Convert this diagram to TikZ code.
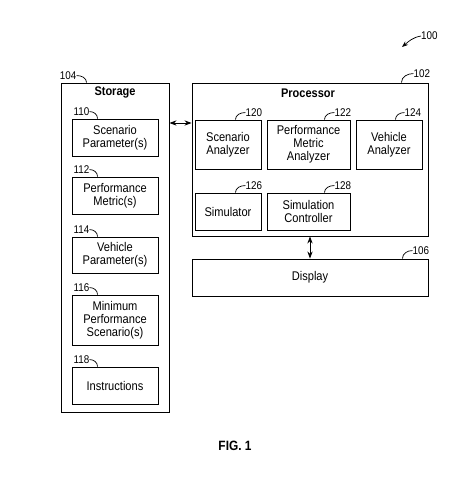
\documentclass[tikz,border=0pt]{standalone}
\usepackage{fontspec}
\setmainfont{Liberation Sans}[FakeStretch=0.88]
\usetikzlibrary{arrows.meta}

\begin{document}
\begin{tikzpicture}[>=Stealth, x=1pt, y=1pt,
    caja/.style={draw, line width=0.9pt, align=center, inner sep=0pt,
      font=\fontsize{12.6}{13}\selectfont},
    ref/.style={inner sep=0pt, font=\fontsize{11.2}{13}\selectfont},
    titulo/.style={inner sep=0pt, font=\bfseries\fontsize{12.5}{13}\selectfont},
    guia/.style={line width=0.7pt}]
                \useasboundingbox (0,0) rectangle (474,488);
                % Almacenamiento
                \node[caja, minimum width=108, minimum height=329] (storage) at (115,240.5) {};
                \node[titulo] (tstorage) at (115,396) {Storage};
                \node[caja, minimum width=86, minimum height=37] (b110) at (115,350.5) {Scenario\\Parameter(s)};
                \node[caja, minimum width=86, minimum height=37] (b112) at (115,292.5) {Performance\\Metric(s)};
                \node[caja, minimum width=86, minimum height=36] (b114) at (115,233) {Vehicle\\Parameter(s)};
                \node[caja, minimum width=86, minimum height=50] (b116) at (115,168) {Minimum\\Performance\\Scenario(s)};
                \node[caja, minimum width=86, minimum height=37] (b118) at (115,102.5) {Instructions};
                % Procesador
                \node[caja, minimum width=236, minimum height=153] (proc) at (310,328.5) {};
                \node[titulo] (tproc) at (308,395) {Processor};
                \node[caja, minimum width=66, minimum height=49] (b120) at (228,343.5) {Scenario\\Analyzer};
                \node[caja, minimum width=83, minimum height=49] (b122) at (308.5,343.5) {Performance\\Metric\\Analyzer};
                \node[caja, minimum width=66, minimum height=49] (b124) at (389,343.5) {Vehicle\\Analyzer};
                \node[caja, minimum width=66, minimum height=37] (b126) at (228,276.5) {Simulator};
                \node[caja, minimum width=83, minimum height=37] (b128) at (308.5,276.5) {Simulation\\Controller};
                % Pantalla
                \node[caja, minimum width=236, minimum height=37] (disp) at (310,210.5) {Display};
                % Flechas
                \draw[<->, line width=0.9pt] (storage.east |- 0,365) -- (proc.west |- 0,365);
                \draw[<->, line width=0.9pt] (proc.south) -- (disp.north);
                % Referencias a la izquierda
                \node[ref, anchor=east] (n104) at ([xshift=16pt,yshift=7pt]storage.north west) {104};
                \draw[guia] (n104.east) to[out=0,in=90] ([xshift=26pt]storage.north west);
                \node[ref, anchor=east] (n110) at ([xshift=18pt,yshift=7pt]b110.north west) {110};
                \draw[guia] (n110.east) to[out=0,in=90] ([xshift=26pt]b110.north west);
                \node[ref, anchor=east] (n112) at ([xshift=18pt,yshift=7pt]b112.north west) {112};
                \draw[guia] (n112.east) to[out=0,in=90] ([xshift=26pt]b112.north west);
                \node[ref, anchor=east] (n114) at ([xshift=18pt,yshift=7pt]b114.north west) {114};
                \draw[guia] (n114.east) to[out=0,in=90] ([xshift=26pt]b114.north west);
                \node[ref, anchor=east] (n116) at ([xshift=18pt,yshift=7pt]b116.north west) {116};
                \draw[guia] (n116.east) to[out=0,in=90] ([xshift=26pt]b116.north west);
                \node[ref, anchor=east] (n118) at ([xshift=18pt,yshift=7pt]b118.north west) {118};
                \draw[guia] (n118.east) to[out=0,in=90] ([xshift=26pt]b118.north west);
                % Referencias a la derecha
                \node[ref, anchor=west] (n102) at ([xshift=-15pt,yshift=9pt]proc.north east) {102};
                \draw[guia] ([xshift=-27pt]proc.north east) to[out=90,in=180] (n102.west);
                \node[ref, anchor=west] (n120) at ([xshift=-16pt,yshift=7pt]b120.north east) {120};
                \draw[guia] ([xshift=-26pt]b120.north east) to[out=90,in=180] (n120.west);
                \node[ref, anchor=west] (n122) at ([xshift=-16pt,yshift=7pt]b122.north east) {122};
                \draw[guia] ([xshift=-26pt]b122.north east) to[out=90,in=180] (n122.west);
                \node[ref, anchor=west] (n124) at ([xshift=-18pt,yshift=7pt]b124.north east) {124};
                \draw[guia] ([xshift=-27pt]b124.north east) to[out=90,in=180] (n124.west);
                \node[ref, anchor=west] (n126) at ([xshift=-16pt,yshift=7pt]b126.north east) {126};
                \draw[guia] ([xshift=-26pt]b126.north east) to[out=90,in=180] (n126.west);
                \node[ref, anchor=west] (n128) at ([xshift=-16pt,yshift=7pt]b128.north east) {128};
                \draw[guia] ([xshift=-26pt]b128.north east) to[out=90,in=180] (n128.west);
                \node[ref, anchor=west] (n106) at ([xshift=-16pt,yshift=8pt]disp.north east) {106};
                \draw[guia] ([xshift=-26pt]disp.north east) to[out=90,in=180] (n106.west);
                % Figura
                \node[ref, anchor=west] (n100) at (421,452) {100};
                \coordinate (punta) at (402,441);
                \draw[->, guia] (n100.west) to[out=190,in=40] (punta);
                \node[titulo, font=\bfseries\fontsize{13.5}{14}\selectfont] (fig) at (235,42) {FIG. 1};
            \end{tikzpicture}
\end{document}
